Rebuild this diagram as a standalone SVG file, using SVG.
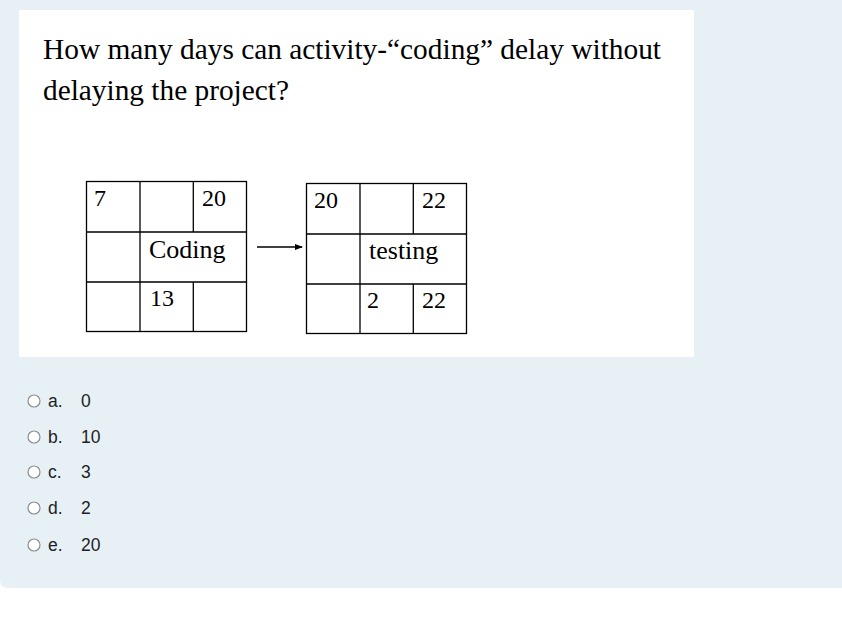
<svg xmlns="http://www.w3.org/2000/svg" width="842" height="625" viewBox="0 0 842 625">
<defs>
<style>
.q{font-family:"Liberation Serif","Times New Roman",serif;font-size:29px;fill:#000}
.n{font-family:"Liberation Serif","Times New Roman",serif;font-size:24px;fill:#000}
.w{font-family:"Liberation Serif","Times New Roman",serif;font-size:26px;fill:#000}
.g{fill:none;stroke:#000;stroke-width:1.3}
.opt{font-family:"Liberation Sans",Arial,sans-serif;font-size:17.5px;fill:#1d2125}
.rad{fill:#fff;stroke:#8a8f94;stroke-width:1.2}
</style>
<marker id="ah" markerWidth="8" markerHeight="6" refX="7" refY="3" orient="auto" markerUnits="userSpaceOnUse">
<path d="M0,0 L8,3 L0,6 Z" fill="#000"/>
</marker>
</defs>
<rect x="0" y="0" width="842" height="625" fill="#fff"/>
<path d="M0,0 H842 V588 H8 Q0,588 0,580 Z" fill="#e7f1f5"/>
<rect x="19" y="10" width="675" height="347" fill="#fff"/>
<text class="q" x="43" y="59" textLength="618" lengthAdjust="spacingAndGlyphs">How many days can activity-“coding” delay without</text>
<text class="q" x="43" y="100" textLength="246" lengthAdjust="spacingAndGlyphs">delaying the project?</text>

<g id="coding">
<rect class="g" x="86.5" y="181.5" width="160" height="150"/>
<path class="g" d="M140,181.5 V331.5 M193.3,181.5 V231.5 M193.3,282 V331.5 M86.5,232 H246.5 M86.5,282 H246.5"/>
<text class="n" x="94" y="206">7</text>
<text class="n" x="202" y="206">20</text>
<text class="w" x="149" y="258">Coding</text>
<text class="n" x="150" y="306">13</text>
</g>

<g id="testing">
<rect class="g" x="306.5" y="183.5" width="160" height="150"/>
<path class="g" d="M360,183.5 V333.5 M413.3,183.5 V234 M413.3,284 V333.5 M306.5,234 H466.5 M306.5,284 H466.5"/>
<text class="n" x="314" y="208">20</text>
<text class="n" x="422" y="208">22</text>
<text class="w" x="369" y="259">testing</text>
<text class="n" x="367" y="308">2</text>
<text class="n" x="422" y="308">22</text>
</g>

<g id="connectors">
<line x1="257" y1="247" x2="302" y2="247" stroke="#000" stroke-width="1.5" marker-end="url(#ah)"/>
</g>

<g id="options">
<circle class="rad" cx="34" cy="401" r="6"/>
<text class="opt" x="48" y="407">a.</text><text class="opt" x="81" y="407">0</text>
<circle class="rad" cx="34" cy="437" r="6"/>
<text class="opt" x="48" y="443">b.</text><text class="opt" x="81" y="443">10</text>
<circle class="rad" cx="34" cy="472" r="6"/>
<text class="opt" x="48" y="478">c.</text><text class="opt" x="81" y="478">3</text>
<circle class="rad" cx="34" cy="508" r="6"/>
<text class="opt" x="48" y="514">d.</text><text class="opt" x="81" y="514">2</text>
<circle class="rad" cx="34" cy="545" r="6"/>
<text class="opt" x="48" y="551">e.</text><text class="opt" x="81" y="551">20</text>
</g>
</svg>
